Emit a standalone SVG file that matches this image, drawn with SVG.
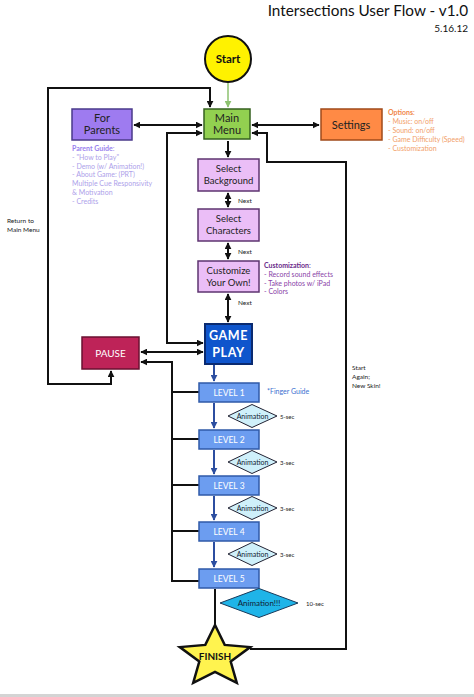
<svg xmlns="http://www.w3.org/2000/svg" width="474" height="697" viewBox="0 0 474 697">
<defs>
<marker id="ah" viewBox="0 0 10 10" refX="9" refY="5" markerWidth="7" markerHeight="7" markerUnits="userSpaceOnUse" orient="auto-start-reverse"><path d="M0,0 L10,5 L0,10 z" fill="#111"/></marker>
<marker id="ahb" viewBox="0 0 10 10" refX="9" refY="5" markerWidth="7" markerHeight="7" markerUnits="userSpaceOnUse" orient="auto"><path d="M0,0 L10,5 L0,10 z" fill="#2C4EA0"/></marker>
<marker id="ahg" viewBox="0 0 10 10" refX="9" refY="5" markerWidth="7" markerHeight="7" markerUnits="userSpaceOnUse" orient="auto"><path d="M0,0 L10,5 L0,10 z" fill="#8DC26F"/></marker>
<style>
text{font-family:Lato,"Open Sans","Liberation Sans",sans-serif;}
.c{text-anchor:middle;}
.bx{font-size:11px;fill:#222;}
.sb{font-size:9.5px;fill:#222;}
.ln{fill:none;stroke:#111;stroke-width:2;}
.bl{fill:none;stroke:#2C4EA0;stroke-width:2;}
.lv{fill:#6C9DF0;stroke:#2F5AA8;stroke-width:1.5;}
.lt{font-size:8.5px;fill:#fff;}
.dm{fill:#CFF0FA;stroke:#223;stroke-width:1;}
.dt{font-size:7px;fill:#123;}
.sec{font-size:6px;fill:#222;}
.nx{font-size:6.5px;fill:#222;}
.sel{fill:#EBBEF7;stroke:#5E3470;stroke-width:1.5;}
.note{font-size:7px;}
</style>
</defs>
<rect x="0" y="694" width="474" height="3" fill="#d4d4d4"/>
<g id="title">
<text x="468" y="16" text-anchor="end" font-size="15.3" fill="#111">Intersections User Flow - v1.0</text>
<text x="468" y="32" text-anchor="end" font-size="10" fill="#111">5.16.12</text>
</g>
<g id="connectors">
<path d="M228,82 V107" stroke="#8DC26F" stroke-width="1.5" fill="none" marker-end="url(#ahg)"/>
<path class="ln" d="M134,125 H202" marker-start="url(#ah)" marker-end="url(#ah)"/>
<path class="ln" d="M252,125 H319" marker-start="url(#ah)" marker-end="url(#ah)"/>
<path class="ln" d="M111,371 V384 H48 V88 H210 V107" marker-start="url(#ah)" marker-end="url(#ah)"/>
<path class="ln" d="M202,133 H167 V343 H203" marker-start="url(#ah)" marker-end="url(#ah)"/>
<path class="ln" d="M252,133 H267 V162 H346 V649 H250" marker-start="url(#ah)"/>
<path class="ln" d="M228,141 V157" marker-end="url(#ah)"/>
<path class="ln" d="M228,193 V207" marker-start="url(#ah)" marker-end="url(#ah)"/>
<path class="ln" d="M228,243 V259" marker-start="url(#ah)" marker-end="url(#ah)"/>
<path class="ln" d="M228,294 V322" marker-start="url(#ah)" marker-end="url(#ah)"/>
<path class="ln" d="M141,352 H203" marker-start="url(#ah)" marker-end="url(#ah)"/>
<path class="ln" d="M141,362 H172 V581 H199" marker-start="url(#ah)"/>
<path class="ln" d="M172,392 H199 M172,439 H199 M172,485 H199 M172,531 H199"/>
<path class="bl" d="M214,365 V381" marker-end="url(#ahb)"/>
<path class="bl" d="M214,403 V428" marker-end="url(#ahb)"/>
<path class="bl" d="M214,450 V474" marker-end="url(#ahb)"/>
<path class="bl" d="M214,496 V520" marker-end="url(#ahb)"/>
<path class="bl" d="M214,542 V567" marker-end="url(#ahb)"/>
<path class="ln" d="M215,589 V626"/>
<text x="7" y="223" font-size="6.5" fill="#222">Return to</text>
<text x="7" y="232" font-size="6.5" fill="#222">Main Menu</text>
<text x="352" y="370" font-size="6.5" fill="#222">Start</text>
<text x="352" y="379" font-size="6.5" fill="#222">Again;</text>
<text x="352" y="388" font-size="6.5" fill="#222">New Skin!</text>
<text x="238" y="203" class="nx">Next</text>
<text x="238" y="254" class="nx">Next</text>
<text x="238" y="305" class="nx">Next</text>
</g>
<g id="start">
<circle cx="228" cy="59" r="23" fill="#FFF200" stroke="#111" stroke-width="2"/>
<text x="228" y="63" class="c" font-size="11.5" font-weight="bold" fill="#111">Start</text>
</g>
<g id="main-menu">
<rect x="204" y="109" width="46" height="30" fill="#92D050" stroke="#35601F" stroke-width="1.5"/>
<text x="227" y="122" class="c bx">Main</text>
<text x="227" y="134" class="c bx">Menu</text>
</g>
<g id="for-parents">
<rect x="72" y="109" width="60" height="31" fill="#9E7BF0" stroke="#4A3A8A" stroke-width="1.5"/>
<text x="102" y="122" class="c bx">For</text>
<text x="102" y="134" class="c bx">Parents</text>
</g>
<g id="parent-guide">
<text x="72" y="151" class="note" font-weight="bold" fill="#9A82EE">Parent Guide<tspan font-weight="normal">:</tspan></text>
<text x="72" y="160" class="note" fill="#AE9FEA">- "How to Play"</text>
<text x="72" y="169" class="note" fill="#AE9FEA">- Demo (w/ Animation!)</text>
<text x="72" y="177" class="note" fill="#AE9FEA">- About Game: (PRT)</text>
<text x="72" y="186" class="note" fill="#AE9FEA">Multiple Cue Responsivity</text>
<text x="72" y="195" class="note" fill="#AE9FEA">&amp; Motivation</text>
<text x="72" y="204" class="note" fill="#AE9FEA">- Credits</text>
</g>
<g id="settings">
<rect x="321" y="109" width="61" height="31" fill="#FF8A45" stroke="#A04A1A" stroke-width="1.5"/>
<text x="351" y="129" class="c bx">Settings</text>
</g>
<g id="options">
<text x="388" y="115" class="note" font-weight="bold" fill="#F0884A">Options<tspan font-weight="normal">:</tspan></text>
<text x="388" y="124" class="note" fill="#F2A06A">- Music: on/off</text>
<text x="388" y="133" class="note" fill="#F2A06A">- Sound: on/off</text>
<text x="388" y="142" class="note" fill="#F2A06A">- Game Difficulty (Speed)</text>
<text x="388" y="151" class="note" fill="#F2A06A">- Customization</text>
</g>
<g id="select-background">
<rect x="198" y="159" width="61" height="32" class="sel"/>
<text x="228.5" y="172" class="c sb">Select</text>
<text x="228.5" y="184" class="c sb">Background</text>
</g>
<g id="select-characters">
<rect x="198" y="209" width="61" height="32" class="sel"/>
<text x="228.5" y="222" class="c sb">Select</text>
<text x="228.5" y="234" class="c sb">Characters</text>
</g>
<g id="customize">
<rect x="198" y="261" width="61" height="31" class="sel"/>
<text x="228.5" y="274" class="c sb">Customize</text>
<text x="228.5" y="286" class="c sb">Your Own!</text>
</g>
<g id="customization-notes">
<text x="264" y="268" class="note" font-weight="bold" fill="#6A2A8A">Customization<tspan font-weight="normal">:</tspan></text>
<text x="264" y="277" class="note" fill="#8A3FA8">- Record sound effects</text>
<text x="264" y="286" class="note" fill="#8A3FA8">- Take photos w/ iPad</text>
<text x="264" y="294" class="note" fill="#8A3FA8">- Colors</text>
</g>
<g id="game-play">
<rect x="205" y="324" width="47" height="40" fill="#0F55CC" stroke="#0A2A70" stroke-width="2"/>
<text x="228.5" y="340" class="c" font-size="12.5" font-weight="bold" letter-spacing="0.6" fill="#fff">GAME</text>
<text x="228.5" y="356.5" class="c" font-size="12.5" font-weight="bold" letter-spacing="0.6" fill="#fff">PLAY</text>
</g>
<g id="pause">
<rect x="82" y="337" width="57" height="32" fill="#BE2358" stroke="#6A1030" stroke-width="1.5"/>
<text x="110.5" y="357" class="c" font-size="10" fill="#fff">PAUSE</text>
</g>
<g id="level-1">
<rect x="199" y="383" width="60" height="19" class="lv"/>
<text x="229" y="395.5" class="c lt">LEVEL 1</text>
<text x="267" y="394" font-size="7" fill="#3A6FD0">*Finger Guide</text>
</g>
<g id="animation-1">
<polygon points="228,416 252,404.5 277,416 252,427.5" class="dm"/>
<text x="252.5" y="418.5" class="c dt">Animation</text>
<text x="280" y="418.5" class="sec">5-sec</text>
</g>
<g id="level-2">
<rect x="199" y="430" width="60" height="19" class="lv"/>
<text x="229" y="442.5" class="c lt">LEVEL 2</text>
</g>
<g id="animation-2">
<polygon points="228,462 252,450.5 277,462 252,473.5" class="dm"/>
<text x="252.5" y="464.5" class="c dt">Animation</text>
<text x="280" y="464.5" class="sec">3-sec</text>
</g>
<g id="level-3">
<rect x="199" y="476" width="60" height="19" class="lv"/>
<text x="229" y="488.5" class="c lt">LEVEL 3</text>
</g>
<g id="animation-3">
<polygon points="228,508 252,496.5 277,508 252,519.5" class="dm"/>
<text x="252.5" y="510.5" class="c dt">Animation</text>
<text x="280" y="510.5" class="sec">3-sec</text>
</g>
<g id="level-4">
<rect x="199" y="522" width="60" height="19" class="lv"/>
<text x="229" y="534.5" class="c lt">LEVEL 4</text>
</g>
<g id="animation-4">
<polygon points="228,554 252,542.5 277,554 252,565.5" class="dm"/>
<text x="252.5" y="556.5" class="c dt">Animation</text>
<text x="280" y="556.5" class="sec">3-sec</text>
</g>
<g id="level-5">
<rect x="199" y="569" width="60" height="19" class="lv"/>
<text x="229" y="581.5" class="c lt">LEVEL 5</text>
</g>
<g id="animation-final">
<polygon points="220,603 259,588.5 298,603 259,617.5" fill="#1FB4E8" stroke="#1A3A5A" stroke-width="1"/>
<text x="259" y="606" class="c" font-size="8" fill="#123">Animation!!!</text>
<text x="306" y="605.5" class="sec">10-sec</text>
</g>
<g id="finish">
<polygon points="215,625 224.7,644.9 250.2,647.1 230.7,661.6 236.8,682.9 215,672 193.2,682.9 199.3,661.6 179.8,647.1 205.3,644.9" fill="#FFF34F" stroke="#111" stroke-width="2.5" stroke-linejoin="miter"/>
<text x="215" y="660" class="c" font-size="10" font-weight="bold" fill="#111">FINISH</text>
</g>
</svg>
